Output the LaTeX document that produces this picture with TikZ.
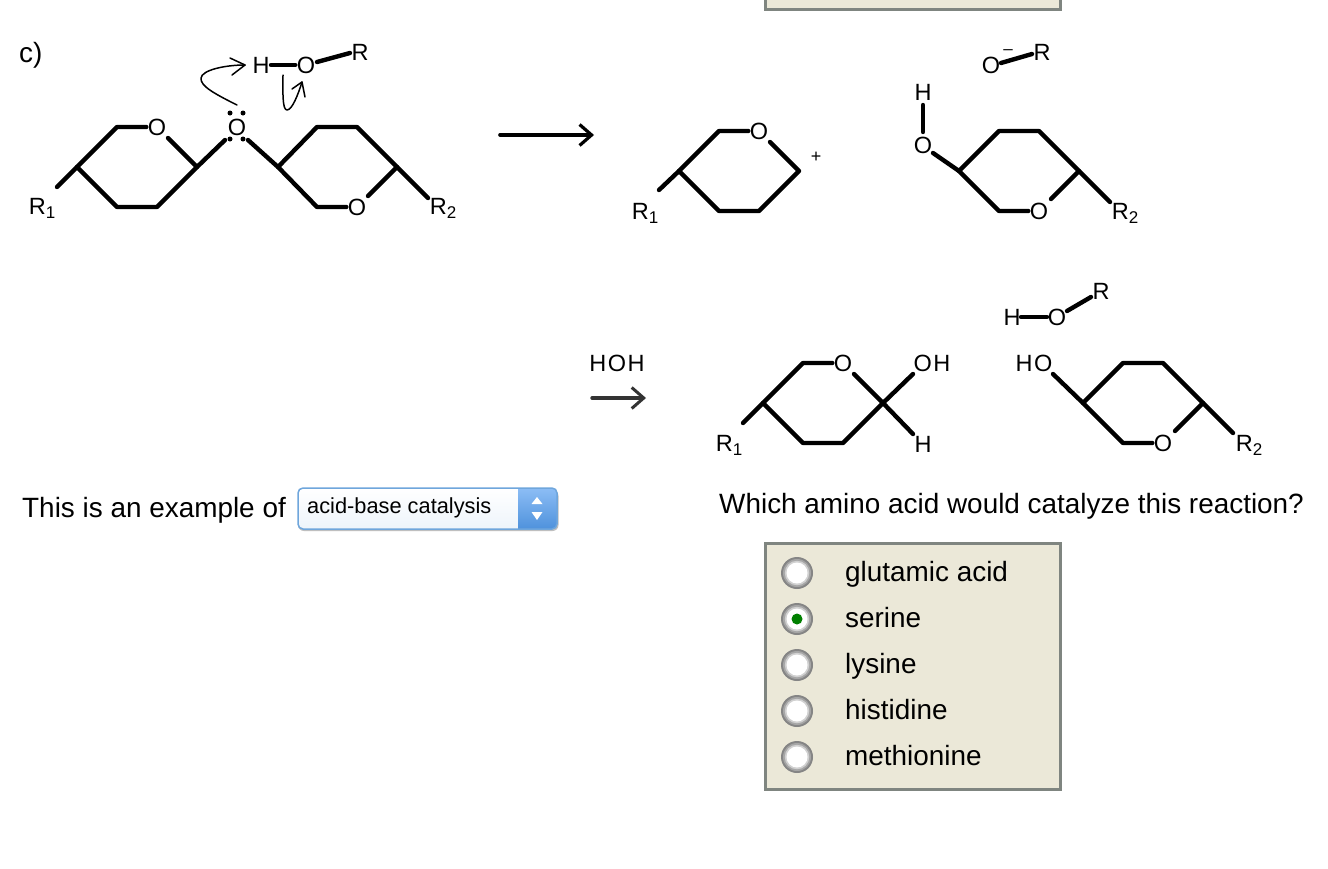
\documentclass[tikz,border=0pt]{standalone}
\usepackage{fontspec}
\setmainfont{Liberation Sans}
\usetikzlibrary{arrows.meta}
\definecolor{panelfill}{HTML}{EBE8D8}
\definecolor{panelline}{HTML}{7F8580}
\definecolor{ddline}{HTML}{6FA6DC}
\definecolor{ddtop}{HTML}{8CBDF5}
\definecolor{ddbot}{HTML}{4F92DC}
\newcommand{\subnum}[1]{\raisebox{-4pt}{\fontsize{17}{17}\selectfont #1}}
\tikzset{
  bond/.style={line width=4.4pt,line cap=round,line join=round,black},
  atom/.style={font=\fontsize{23.5}{23.5}\selectfont,inner sep=0pt,minimum size=21pt,text=black},
  body/.style={font=\fontsize{27.9}{27.9}\selectfont,inner sep=0pt,anchor=base west,text=black},
  hand/.style={line width=1.5pt,black,line cap=round,line join=round},
  rxn/.style={line width=3.6pt,line cap=round,black,-{Straight Barb[length=12pt,width=21pt,line width=3.2pt]}},
  panel/.style={draw=panelline,line width=3pt,fill=panelfill},
  lpdot/.style={circle,fill=black,inner sep=0pt,minimum size=5pt},
}
\newcommand{\radiobtn}[3]{%
  \node[circle,inner sep=0pt,minimum size=32pt,fill=black!48] (#1) at (797,#2) {};
  \node[circle,inner sep=0pt,minimum size=28pt,fill=black!35] at (797,#2) {};
  \node[circle,inner sep=0pt,minimum size=24.5pt,fill=black!18] at (797,#2) {};
  \node[circle,inner sep=0pt,minimum size=21pt,fill=white] at (797,#2) {};
  #3
}
\begin{document}
\begin{tikzpicture}[x=1pt,y=-1pt]
\useasboundingbox (0,0) rectangle (1328,868);
\fill[white] (0,0) rectangle (1328,868);

% top panel fragment and answer panel
\path[panel] (765,-12) rectangle (1060,9.5);
\path[panel] (765,543) rectangle (1060,789);

\node[body] (clabel) at (19,62) {c)};

% ---- left reactant
\node[atom] (O1) at (157,127) {O};
\node[atom] (O2) at (237,127) {O};
\node[atom] (O3) at (357,207) {O};
\node[atom] (Ra) at (42,208) {R\subnum{1}};
\node[atom] (Rb) at (443,208) {R\subnum{2}};
\node[atom] (Ha) at (261,65) {H};
\node[atom] (Oa) at (306,65) {O};
\node[atom] (Rc) at (360,52) {R};
\coordinate (a1) at (77,167);
\coordinate (a2) at (117,127);
\coordinate (a3) at (197,167);
\coordinate (a4) at (157,207);
\coordinate (a5) at (117,207);
\coordinate (a6) at (278,167);
\coordinate (a7) at (317,127);
\coordinate (a8) at (357,127);
\coordinate (a9) at (397,167);
\coordinate (a10) at (317,207);
\coordinate (a11) at (57,187);
\coordinate (a12) at (428,198);
\draw[bond] (a11) -- (a1) -- (a2) -- (O1.west);
\draw[bond] (168,138) -- (a3) -- (a4) -- (a5) -- (a1);
\draw[bond] (a3) -- (225,140);
\draw[bond] (248,140) -- (a6) -- (a7) -- (a8) -- (a9) -- (a12);
\draw[bond] (a9) -- (368,196);
\draw[bond] (a6) -- (a10) -- (O3.west);
\draw[bond] (271,65) -- (Oa.west);
\draw[bond] (317,62) -- (350,53);
\foreach \n/\p in {d1/{(230,113)},d2/{(243,113)},d3/{(230,139)},d4/{(243,139)}}
  \node[lpdot] (\n) at \p {};
% electron-pushing arrows
\coordinate (c1) at (237,105);
\coordinate (c2) at (245,65);
\coordinate (c3) at (283,75);
\coordinate (c4) at (302,82);
\draw[hand] (c1) .. controls (215,94) and (200,86) .. (201,78) .. controls (202,70) and (225,65) .. (c2);
\draw[hand] (230,58) -- (c2) -- (232,75);
\draw[hand] (c3) .. controls (283,90) and (282,110) .. (287,110) .. controls (292,110) and (298,95) .. (c4);
\draw[hand] (292,89) -- (c4) -- (305,97);

% main arrow
\coordinate (m1) at (500,135);
\coordinate (m2) at (594,135);
\draw[rxn] (m1) -- (m2);

% ---- product ring 1
\node[atom] (O4) at (759,131) {O};
\node[atom] (Rd) at (645,213) {R\subnum{1}};
\node[atom,font=\fontsize{18}{18}\selectfont] (plus) at (816,157) {+};
\coordinate (b0) at (659,190);
\coordinate (b1) at (679,171);
\coordinate (b2) at (719,131);
\coordinate (b3) at (799,171);
\coordinate (b4) at (759,211);
\coordinate (b5) at (719,211);
\draw[bond] (b0) -- (b1) -- (b2) -- (O4.west);
\draw[bond] (770,142) -- (b3) -- (b4) -- (b5) -- (b1);

% ---- product ring 2
\node[atom] (H5) at (923,92) {H};
\node[atom] (O5) at (923,145) {O};
\node[atom] (O6) at (1039,211) {O};
\node[atom] (Re) at (1125,213) {R\subnum{2}};
\node[atom] (Of) at (991,65) {O};
\node[atom] (Rf) at (1042,52) {R};
\node[atom,font=\fontsize{17}{17}\selectfont] (minus) at (1008,52) {--};
\coordinate (e1) at (959,171);
\coordinate (e2) at (999,131);
\coordinate (e3) at (1039,131);
\coordinate (e4) at (1079,171);
\coordinate (e5) at (999,211);
\coordinate (e6) at (1110,202);
\draw[bond] (923,105) -- (923,132);
\draw[bond] (933,153) -- (e1) -- (e2) -- (e3) -- (e4) -- (e6);
\draw[bond] (e4) -- (1051,199);
\draw[bond] (e1) -- (e5) -- (O6.west);
\draw[bond] (1001,63) -- (1032,54);

% ---- second row
\node[atom] (HOH) at (617,363) {H\kern1.5pt O\kern1.5pt H};
\coordinate (n1) at (592,398);
\coordinate (n2) at (646,398);
\draw[line width=3.4pt,line cap=round,black!80,-{Straight Barb[length=12pt,width=21pt,line width=3pt]}] (n1) -- (n2);

\node[atom] (O7) at (843,363) {O};
\node[atom] (OH) at (932,363) {O\kern1.5pt H};
\node[atom] (H7) at (923,444) {H};
\node[atom] (Rg) at (729,445) {R\subnum{1}};
\coordinate (g0) at (743,423);
\coordinate (g1) at (763,403);
\coordinate (g2) at (803,363);
\coordinate (g3) at (883,403);
\coordinate (g4) at (843,443);
\coordinate (g5) at (803,443);
\draw[bond] (g0) -- (g1) -- (g2) -- (O7.west);
\draw[bond] (854,374) -- (g3) -- (g4) -- (g5) -- (g1);
\draw[bond] (913,374) -- (g3) -- (913,434);

\node[atom] (HO) at (1034,363) {H\kern1.5pt O};
\node[atom] (O8) at (1163,443) {O};
\node[atom] (Rh) at (1249,445) {R\subnum{2}};
\node[atom] (H9) at (1012,317) {H};
\node[atom] (O9) at (1057,317) {O};
\node[atom] (R9) at (1101,291) {R};
\coordinate (h1) at (1083,403);
\coordinate (h2) at (1123,363);
\coordinate (h3) at (1163,363);
\coordinate (h4) at (1203,403);
\coordinate (h5) at (1123,443);
\coordinate (h6) at (1233,433);
\draw[bond] (1053,374) -- (h1) -- (h2) -- (h3) -- (h4) -- (h6);
\draw[bond] (h4) -- (1175,431);
\draw[bond] (h1) -- (h5) -- (O8.west);
\draw[bond] (1021,317) -- (1047,317);
\draw[bond] (1067,311) -- (1091,297);

% ---- text
\node[body] (t1) at (22,517) {This is an example of};
\node[body] (t2) at (719,513) {Which amino acid would catalyze this reaction?};

% ---- dropdown
\fill[black!25,rounded corners=6pt] (298,490) rectangle (558.5,531);
\begin{scope}
  \clip[rounded corners=5pt] (298,488) rectangle (557,529);
  \shade[top color=white,bottom color=ddline!12] (298,488) rectangle (518,529);
  \shade[top color=ddtop,bottom color=ddbot] (518,488) rectangle (557,529);
\end{scope}
\draw[ddline,line width=1.5pt,rounded corners=5pt] (298,488) rectangle (557,529);
\node[font=\fontsize{21.8}{21.8}\selectfont,inner sep=0pt,anchor=base west,text=black] (dd) at (307,513) {acid-base catalysis};
\fill[white] (537,497) -- (542.5,504) -- (531.5,504) -- cycle;
\fill[white] (537,520) -- (542.5,512) -- (531.5,512) -- cycle;

% ---- radio buttons
\radiobtn{r1}{573}{}
\radiobtn{r2}{619}{\node[circle,inner sep=0pt,minimum size=11pt,fill=green!50!black] at (797,619) {};}
\radiobtn{r3}{665}{}
\radiobtn{r4}{711}{}
\radiobtn{r5}{757}{}
\node[body] (l1) at (845,581) {glutamic acid};
\node[body] (l2) at (845,627) {serine};
\node[body] (l3) at (845,673) {lysine};
\node[body] (l4) at (845,719) {histidine};
\node[body] (l5) at (845,765) {methionine};
\end{tikzpicture}
\end{document}
